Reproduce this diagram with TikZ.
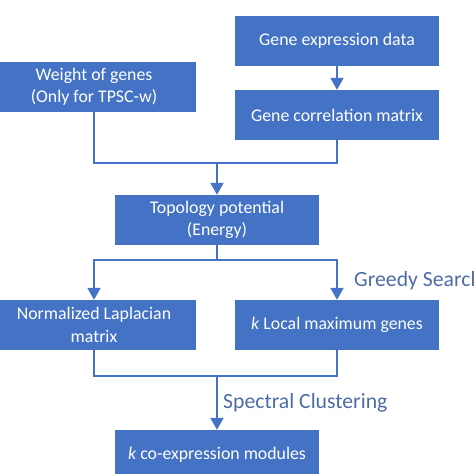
\documentclass[tikz,border=0pt]{standalone}
\usepackage{fontspec}
\setmainfont{Carlito}
\usetikzlibrary{arrows.meta}
\definecolor{boxblue}{HTML}{4472C4}
\definecolor{labelblue}{HTML}{4D6CA6}

\begin{document}
\begin{tikzpicture}[x=1pt, y=-1pt, >={Triangle[width=13pt,length=12pt]},
  box/.style={fill=boxblue, text=white, minimum width=204pt, minimum height=50pt,
    inner sep=0pt, align=center, font=\fontsize{17.8}{22.5}\selectfont},
  link/.style={draw=boxblue, line width=2pt},
  steplabel/.style={text=labelblue, anchor=west, inner sep=0pt, font=\fontsize{21.7}{26}\selectfont}]
  % Frame of the figure
  \useasboundingbox (0,0) rectangle (474,474);

  % Inputs
  \node[box] (exprdata) at (337,41) {Gene expression data};
  \node[box] (corrmat) at (337,115) {Gene correlation matrix};
  \node[box] (weights) at (94,87) {Weight of genes\\(Only for TPSC-w)};

  % Energy
  \node[box] (topopot) at (217,220) {Topology potential\\(Energy)};

  % Two branches
  \node[box] (laplacian) at (94,325) {Normalized Laplacian\\matrix};
  \node[box] (localmax) at (337,325) {\textit{k} Local maximum genes};

  % Result
  \node[box] (modules) at (217,455) {\textit{k} co-expression modules};

  % Junction points
  \coordinate (joinin) at (217,163);
  \coordinate (split) at (217,260);
  \coordinate (joinout) at (217,376);

  % Connectors
  \draw[link, ->] (exprdata) -- (corrmat);
  \draw[link] (weights.south) |- (joinin);
  \draw[link] (corrmat.south) |- (joinin);
  \draw[link, ->] (joinin) -- (topopot);
  \draw[link] (topopot.south) -- (split);
  \draw[link, ->] (split) -| (laplacian.north);
  \draw[link, ->] (split) -| (localmax.north);
  \draw[link] (laplacian.south) |- (joinout);
  \draw[link] (localmax.south) |- (joinout);
  \draw[link, ->] (joinout) -- (modules);

  % Step labels
  \node[steplabel] (greedy) at (354,281) {Greedy Search};
  \node[steplabel] (spectral) at (223,403) {Spectral Clustering};
\end{tikzpicture}
\end{document}
